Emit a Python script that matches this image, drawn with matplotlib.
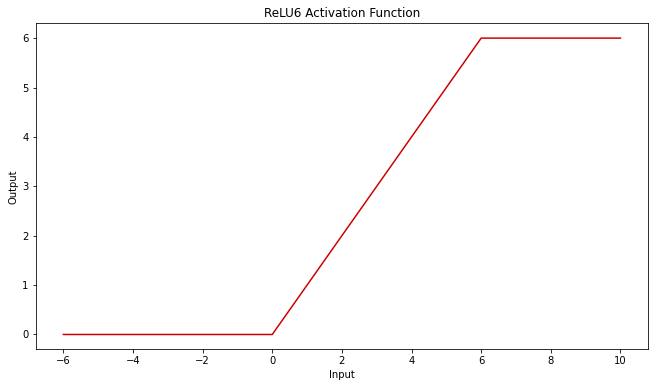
import numpy as np
import matplotlib
matplotlib.use("Agg")
import matplotlib.pyplot as plt

# Data: ReLU6 breakpoints
x_points = [-6, 0, 6, 10]
y_points = [0, 0, 6, 6]

title = "ReLU6 Activation Function"
xlabel = "Input"
ylabel = "Output"

fig = plt.figure(figsize=(655/72, 387/72), dpi=72)
ax = fig.add_axes([35.5/655, 1-349.3/387, (648.3-35.5)/655, (349.3-23.3)/387])
ax.plot(x_points, y_points, color="#cc0000", linewidth=1.5)
ax.set_title(title)
ax.set_xlabel(xlabel)
ax.set_ylabel(ylabel)
ax.set_xticks([-6, -4, -2, 0, 2, 4, 6, 8, 10])
ax.set_yticks([0, 1, 2, 3, 4, 5, 6])
fig.savefig("out.png", dpi=72)
